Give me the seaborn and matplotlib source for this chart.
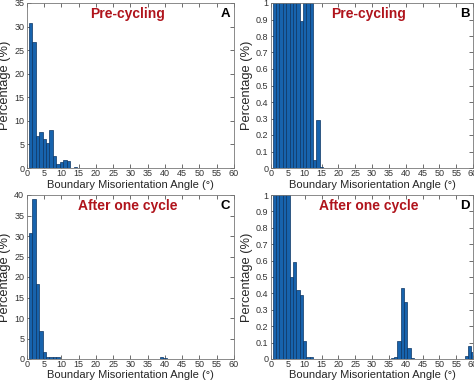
import numpy as np
import pandas as pd
import matplotlib
matplotlib.use("Agg")
import matplotlib.pyplot as plt
from matplotlib.ticker import FormatStrFormatter
import seaborn as sns

# misorientation angle bins (deg), 1-degree wide, centred on integers
angles = list(range(1, 61))

pre_cycling = [30.7, 26.7, 6.8, 7.6, 6.1, 5.4, 8.1, 2.6, 0.89, 1.3,
               1.8, 1.4, 0.05, 0.29, 0.005] + [0.0] * 45

after_cycle = ([30.8, 39.0, 18.2, 6.9, 1.7, 0.50, 0.59, 0.42, 0.39, 0.11,
                0.012, 0.012, 0.003] + [0.0] * 22 +
               [0.005, 0.012, 0.11, 0.43, 0.35, 0.07, 0.005] + [0.0] * 15 +
               [0.02, 0.08, 0.04])

titles = ["Pre-cycling", "Pre-cycling", "After one cycle", "After one cycle"]
letters = ["A", "B", "C", "D"]
ymaxes = [35, 1, 40, 1]

sns.set_style("ticks")
plt.rcParams['font.family'] = ['Liberation Sans', 'DejaVu Sans']

W, H = 474, 383
fig = plt.figure(figsize=(W / 100, H / 100), dpi=100)

# axes boxes in pixels: left, right, top, bottom
boxes = [(27, 234, 3, 168), (271, 473, 3, 168),
         (27, 234, 195, 359), (271, 473, 195, 359)]
series = [pre_cycling, pre_cycling, after_cycle, after_cycle]

for i in range(4):
    l, r, t, b = boxes[i]
    ax = fig.add_axes([l / W, 1 - b / H, (r - l) / W, (b - t) / H])
    df = pd.DataFrame({'angle': angles, 'pct': series[i]})
    sns.histplot(data=df, x='angle', weights='pct', discrete=True, ax=ax,
                 color='#1763ad', edgecolor='#0c3563', linewidth=0.5, alpha=1)
    ax.set_xlim(0, 60)
    ax.set_ylim(0, ymaxes[i])
    ax.set_xticks(range(0, 61, 5))
    if ymaxes[i] == 1:
        ax.set_yticks(np.arange(0, 1.01, 0.1))
        ax.yaxis.set_major_formatter(FormatStrFormatter('%g'))
    else:
        ax.set_yticks(range(0, ymaxes[i] + 1, 5))
    ax.tick_params(direction='in', top=True, right=True, length=3, width=0.5,
                   labelsize=6.5, colors='#333333')
    ax.tick_params(axis='x', pad=0.8)
    ax.tick_params(axis='y', pad=2)
    for s in ax.spines.values():
        s.set_color('#777777')
        s.set_linewidth(0.6)
    ax.set_xlabel('Boundary Misorientation Angle (°)', fontsize=8, labelpad=1)
    ax.set_ylabel('Percentage (%)', fontsize=9.3, labelpad=2)
    ax.text(0.485, 0.935, titles[i], transform=ax.transAxes, ha='center', va='center',
            fontsize=10, fontweight='bold', color='#b0141c')
    ax.text(0.96, 0.935, letters[i], transform=ax.transAxes, ha='center', va='center',
            fontsize=9.5, fontweight='bold', color='black')

fig.savefig('out.png', dpi=100)
